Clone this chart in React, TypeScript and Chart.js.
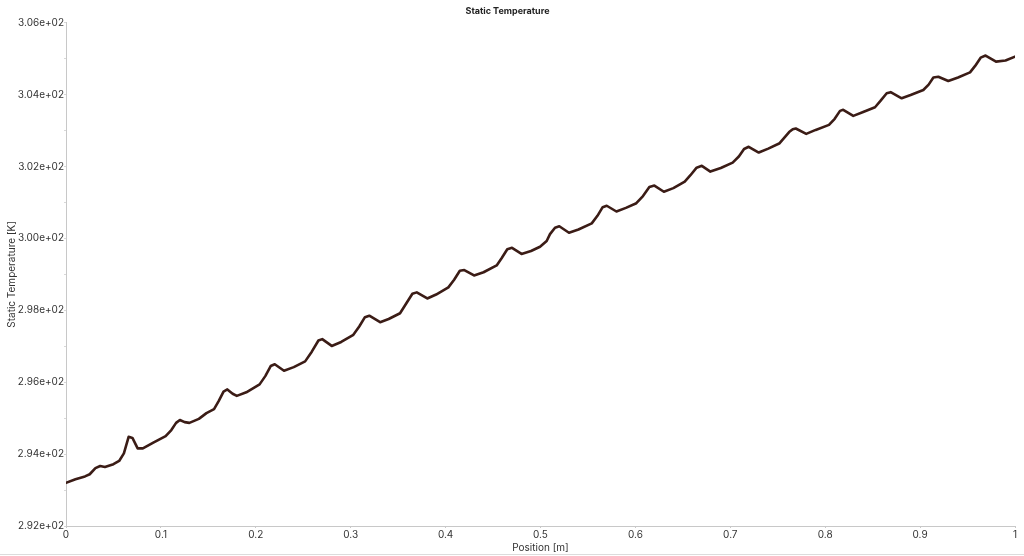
import React, { useEffect, useRef } from "react";
import { Chart, registerables } from "chart.js";

Chart.register(...registerables);

const positions: number[] = [
  0.0, 0.01, 0.02, 0.025, 0.031, 0.036, 0.041, 0.05, 0.056, 0.061, 0.066, 0.07, 0.0755, 0.081, 0.092,
  0.105, 0.111, 0.116, 0.12, 0.125, 0.13, 0.14, 0.148, 0.156, 0.161, 0.166, 0.17, 0.1756, 0.18, 0.19,
  0.204, 0.21, 0.2157, 0.22, 0.2297, 0.24, 0.252, 0.259, 0.266, 0.27, 0.28, 0.29,
  0.3028, 0.309, 0.315, 0.3196, 0.331, 0.34, 0.352, 0.358, 0.365, 0.3696, 0.3807, 0.39,
  0.4029, 0.409, 0.415, 0.4197, 0.43, 0.44, 0.4538, 0.459, 0.465, 0.47, 0.48, 0.49,
  0.4995, 0.5065, 0.51, 0.5153, 0.5198, 0.53, 0.54, 0.554, 0.56, 0.5655, 0.5698, 0.58, 0.59,
  0.601, 0.608, 0.6147, 0.62, 0.63, 0.64, 0.652, 0.658, 0.6645, 0.67, 0.679, 0.69,
  0.7025, 0.709, 0.7145, 0.7194, 0.73, 0.74, 0.752, 0.762, 0.7658, 0.769, 0.78, 0.79,
  0.804, 0.81, 0.8156, 0.819, 0.8296, 0.84, 0.8525, 0.858, 0.8648, 0.869, 0.8806, 0.89,
  0.9034, 0.909, 0.914, 0.9192, 0.9297, 0.94, 0.9526, 0.958, 0.9638, 0.969, 0.98, 0.99, 1.0,
];

const temperatures: number[] = [
  293.2, 293.3, 293.38, 293.44, 293.61, 293.67, 293.64, 293.72, 293.81, 294.02, 294.48, 294.45, 294.16, 294.16, 294.32,
  294.5, 294.67, 294.87, 294.95, 294.89, 294.87, 294.98, 295.14, 295.25, 295.48, 295.74, 295.8, 295.68, 295.62, 295.72,
  295.94, 296.17, 296.45, 296.5, 296.32, 296.42, 296.58, 296.85, 297.16, 297.2, 297.01, 297.12,
  297.32, 297.55, 297.81, 297.85, 297.67, 297.76, 297.92, 298.17, 298.46, 298.5, 298.33, 298.44,
  298.64, 298.85, 299.1, 299.12, 298.97, 299.06, 299.25, 299.45, 299.7, 299.74, 299.57, 299.65,
  299.77, 299.93, 300.12, 300.3, 300.34, 300.16, 300.25, 300.42, 300.63, 300.87, 300.91, 300.75, 300.85,
  300.98, 301.18, 301.43, 301.47, 301.3, 301.4, 301.58, 301.76, 301.97, 302.02, 301.86, 301.96,
  302.11, 302.28, 302.49, 302.55, 302.39, 302.5, 302.65, 302.96, 303.04, 303.06, 302.91, 303.02,
  303.16, 303.33, 303.55, 303.58, 303.41, 303.52, 303.65, 303.82, 304.04, 304.07, 303.9, 303.99,
  304.13, 304.28, 304.48, 304.5, 304.38, 304.48, 304.62, 304.8, 305.03, 305.09, 304.92, 304.95, 305.06,
];

const xTicks: number[] = [0, 0.1, 0.2, 0.3, 0.4, 0.5, 0.6, 0.7, 0.8, 0.9, 1];
const yTicks: number[] = [292, 294, 296, 298, 300, 302, 304, 306];

const FONT = "Inter, 'Noto Sans', 'DejaVu Sans', sans-serif";

function fmtExp(v: number): string {
  const s = v.toExponential(2); // e.g. 3.06e+2
  const m = s.match(/^(-?[\d.]+)e([+-])(\d+)$/);
  if (!m) return s;
  const exp = m[3].length < 2 ? "0" + m[3] : m[3];
  return `${m[1]}e${m[2]}${exp}`;
}

export default function App() {
  const ref = useRef<HTMLCanvasElement | null>(null);

  useEffect(() => {
    if (!ref.current) return;
    const data = positions.map((x, i) => ({ x, y: temperatures[i] }));
    const chart = new Chart(ref.current, {
      type: "line",
      data: {
        datasets: [
          {
            label: "Static Temperature",
            data,
            borderColor: "#3b1c16",
            borderWidth: 2.6,
            pointRadius: 0,
            tension: 0,
            fill: false,
            borderJoinStyle: "round",
            borderCapStyle: "round",
          },
        ],
      },
      options: {
        animation: false,
        responsive: false,
        maintainAspectRatio: false,
        layout: { padding: { top: 0, right: 9, bottom: 0, left: 0 } },
        plugins: {
          legend: { display: false },
          tooltip: { enabled: false },
          title: {
            display: true,
            text: "Static Temperature",
            color: "#222",
            font: { family: FONT, size: 9, weight: "bold" },
            padding: { top: 6, bottom: 6 },
          },
        },
        scales: {
          x: {
            type: "linear",
            min: 0,
            max: 1,
            afterBuildTicks: (scale: any) => {
              scale.ticks = xTicks.map((v) => ({ value: v }));
            },
            afterFit: (scale: any) => {
              scale.height = 28;
            },
            border: { display: true, color: "#c8c8c8", width: 1 },
            grid: { display: true, drawOnChartArea: false, drawTicks: true, tickLength: 2, color: "#c8c8c8" },
            ticks: {
              autoSkip: false,
              maxRotation: 0,
              padding: 1,
              color: "#333",
              font: { family: FONT, size: 10 },
              callback: (v: any) => String(Number(Number(v).toFixed(2))),
            },
            title: {
              display: true,
              text: "Position [m]",
              color: "#333",
              font: { family: FONT, size: 10 },
              padding: { top: 0, bottom: 0 },
            },
          },
          y: {
            type: "linear",
            min: 292,
            max: 306,
            afterBuildTicks: (scale: any) => {
              const t: { value: number }[] = [];
              for (let v = 292; v <= 306; v += 1) t.push({ value: v });
              scale.ticks = t;
            },
            afterFit: (scale: any) => {
              scale.width = 66;
            },
            border: { display: true, color: "#c8c8c8", width: 1 },
            grid: { display: true, drawOnChartArea: false, drawTicks: true, tickLength: 2, color: "#d8d8d8" },
            ticks: {
              autoSkip: false,
              padding: 0,
              color: "#333",
              font: { family: FONT, size: 10 },
              callback: (v: any) => (yTicks.includes(Number(v)) ? fmtExp(Number(v)) : ""),
            },
            title: {
              display: true,
              text: "Static Temperature [K]",
              color: "#333",
              font: { family: FONT, size: 10 },
              padding: { top: 6, bottom: 0 },
            },
          },
        },
      },
    });
    return () => chart.destroy();
  }, []);

  return (
    <div
      style={{
        position: "fixed",
        left: 0,
        top: 0,
        width: 1024,
        height: 556,
        background: "#fff",
      }}
    >
      <canvas ref={ref} width={1024} height={554} style={{ display: "block", width: 1024, height: 554 }} />
      <div style={{ height: 1, background: "#dcdcdc", width: 1024 }} />
    </div>
  );
}
